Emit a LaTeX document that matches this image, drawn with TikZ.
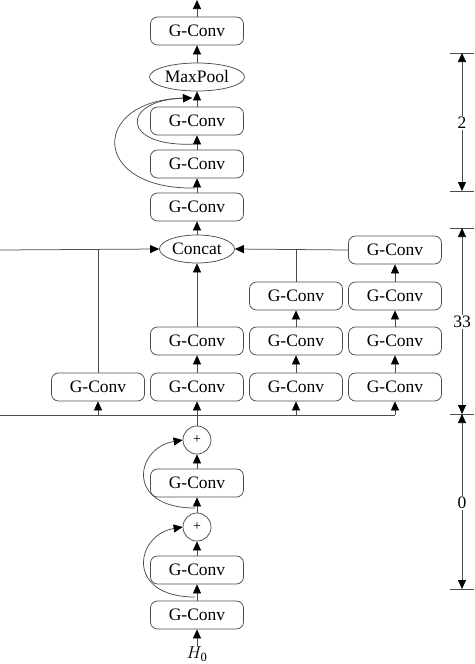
\documentclass[tikz,border=0pt]{standalone}
\usepackage{fontspec}
\setmainfont{Liberation Serif}
\usetikzlibrary{arrows.meta,shapes.geometric}
\tikzset{
  ln/.style={draw=black!70, line width=0.75pt},
  arr/.style={ln, -{Triangle[length=9pt,width=8pt,color=black]}},
  gbox/.style={ln, rectangle, rounded corners=7pt, minimum width=93pt, minimum height=28pt, inner sep=0pt, font=\fontsize{17.5}{20}\selectfont},
  ell/.style={ln, ellipse, minimum height=28pt, inner sep=0pt, font=\fontsize{17.5}{20}\selectfont},
  plus/.style={ln, circle, minimum size=28pt, inner sep=0pt, font=\fontsize{14}{16}\selectfont},
  dimlab/.style={fill=white, inner sep=1pt, font=\fontsize{17.5}{20}\selectfont},
}
\begin{document}
\begin{tikzpicture}[x=1pt,y=-1pt]
\useasboundingbox (0,0) rectangle (474,664);
% main column top part
\coordinate (top) at (197,0);
\node[gbox] (gtop) at (197,31) {G-Conv};
\node[ell, minimum width=95pt] (mp) at (197,77) {MaxPool};
\node[gbox] (g2) at (197,121) {G-Conv};
\node[gbox] (g3) at (197,164) {G-Conv};
\node[gbox] (g4) at (197,207) {G-Conv};
\node[ell, minimum width=75pt] (concat) at (197,249) {Concat};
% branch grid
\node[gbox] (c4a) at (395,250) {G-Conv};
\node[gbox] (c3b) at (296,296) {G-Conv};
\node[gbox] (c4b) at (395,296) {G-Conv};
\node[gbox] (c2c) at (197,341) {G-Conv};
\node[gbox] (c3c) at (296,341) {G-Conv};
\node[gbox] (c4c) at (395,341) {G-Conv};
\node[gbox] (c1d) at (98,387) {G-Conv};
\node[gbox] (c2d) at (197,387) {G-Conv};
\node[gbox] (c3d) at (296,387) {G-Conv};
\node[gbox] (c4d) at (395,387) {G-Conv};
% lower stem
\node[plus] (p1) at (197,440) {+};
\node[gbox] (b1) at (197,483) {G-Conv};
\node[plus] (p2) at (197,527) {+};
\node[gbox] (b2) at (197,570) {G-Conv};
\node[gbox] (b3) at (197,615) {G-Conv};
\node[inner sep=1pt, font=\fontsize{18}{20}\selectfont] (h0) at (197,654) {$H_{\mathrm{0}}$};

% coordinates
\coordinate (l1) at (0,250);
\coordinate (j1) at (98,250);
\coordinate (j3) at (296,250);
\coordinate (l2) at (0,415);
\coordinate (k1) at (98,415);
\coordinate (k3) at (296,415);
\coordinate (k4) at (395,415);
\coordinate (s1) at (195,144);
\coordinate (s2) at (195,188);
\coordinate (e1) at (192,98);
\coordinate (s3) at (195,597);
\coordinate (s4) at (195,508);

% main column arrows
\draw[arr] (gtop.north) -- (top);
\draw[arr] (mp.north) -- (gtop.south);
\draw[arr] (g2.north) -- (mp.south);
\draw[arr] (g3.north) -- (g2.south);
\draw[arr] (g4.north) -- (g3.south);
\draw[arr] (concat.north) -- (g4.south);
% skip curves top
\draw[arr] (s1) .. controls (120,148) and (120,100) .. (e1);
\draw[arr] (s2) .. controls (90,190) and (90,100) .. (e1);
% concat inputs
\draw[arr] (l1) -- (concat.west);
\draw[ln] (c1d.north) -- (j1);
\draw[ln] (c3b.north) -- (j3);
\draw[arr] (c4a.west) -- (concat.east);
\draw[arr] (c2c.north) -- (concat.south);
\draw[arr] (c2d.north) -- (c2c.south);
\draw[arr] (c3d.north) -- (c3c.south);
\draw[arr] (c3c.north) -- (c3b.south);
\draw[arr] (c4d.north) -- (c4c.south);
\draw[arr] (c4c.north) -- (c4b.south);
\draw[arr] (c4b.north) -- (c4a.south);
% bottom distribution line
\draw[ln] (l2) -- (k4);
\draw[arr] (k1) -- (c1d.south);
\draw[arr] (k3) -- (c3d.south);
\draw[arr] (k4) -- (c4d.south);
\draw[arr] (p1.north) -- (c2d.south);
% lower stem
\draw[arr] (h0.north) -- (b3.south);
\draw[arr] (b3.north) -- (b2.south);
\draw[arr] (b2.north) -- (p2.south);
\draw[arr] (p2.north) -- (b1.south);
\draw[arr] (b1.north) -- (p1.south);
\draw[arr] (s3) .. controls (125,597) and (135,535) .. (p2.west);
\draw[arr] (s4) .. controls (125,508) and (135,448) .. (p1.west);

% dimension markers
\coordinate (t1) at (462,53);
\coordinate (t2) at (462,191);
\coordinate (t3) at (462,228);
\coordinate (t4) at (462,414);
\coordinate (t5) at (462,589);
\foreach \t in {t1,t2,t3,t4,t5} \draw[ln] ([xshift=-12pt]\t) -- ([xshift=12pt]\t);
\node[dimlab] (d2) at (462,123) {2};
\node[dimlab] (d33) at (462,322) {33};
\node[dimlab] (d0) at (462,503) {0};
\draw[arr] (d2.north) -- (t1);
\draw[arr] (d2.south) -- (t2);
\draw[arr] (d33.north) -- (t3);
\draw[arr] (d33.south) -- (t4);
\draw[arr] (d0.north) -- (t4);
\draw[arr] (d0.south) -- (t5);
\end{tikzpicture}
\end{document}
